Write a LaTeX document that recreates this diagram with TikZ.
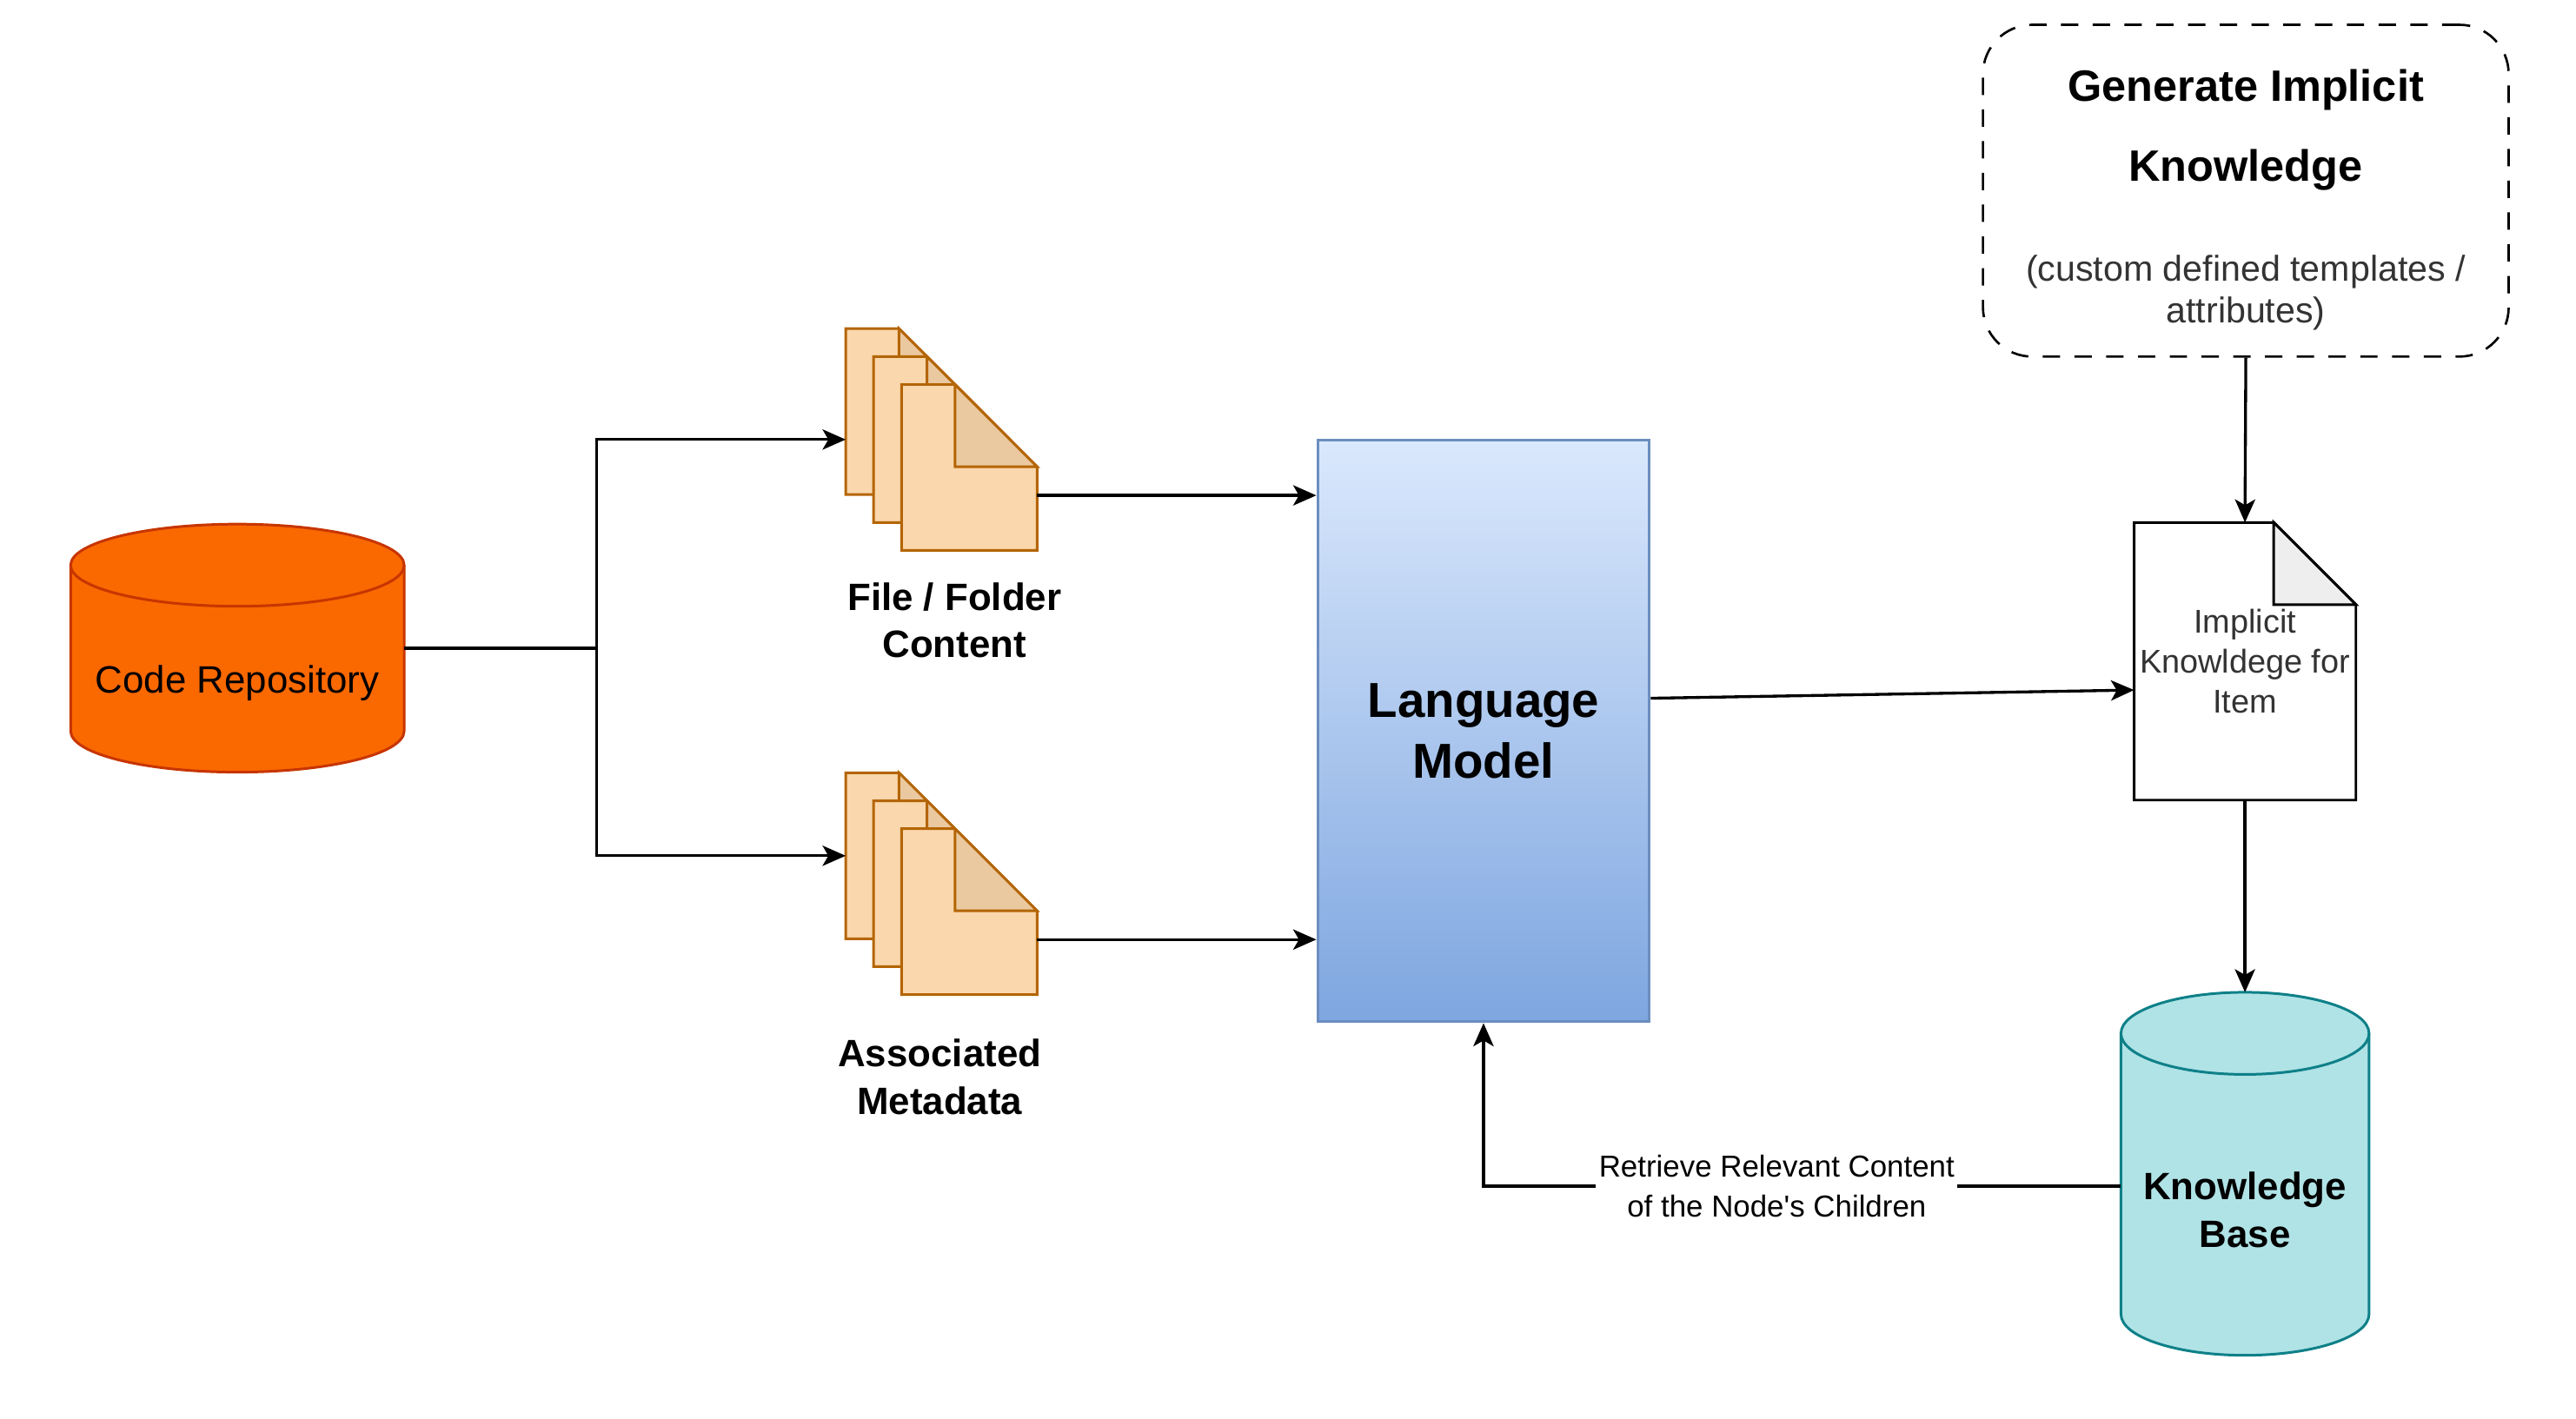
\documentclass[tikz,border=0pt]{standalone}
\usepackage{fontspec}
\setmainfont{Liberation Sans}
\usetikzlibrary{arrows.meta, positioning, shapes.geometric, shapes.misc}

\definecolor{repofill}{HTML}{FA6800}
\definecolor{repoline}{HTML}{C73500}
\definecolor{docfill}{HTML}{FAD7AC}
\definecolor{docline}{HTML}{B46504}
\definecolor{docfold}{HTML}{EBC9A0}
\definecolor{lmtop}{HTML}{DAE8FC}
\definecolor{lmbottom}{HTML}{7EA6E0}
\definecolor{lmline}{HTML}{6C8EBF}
\definecolor{kbfill}{HTML}{B0E3E6}
\definecolor{kbline}{HTML}{0E8088}
\definecolor{itemfold}{HTML}{EEEEEE}
\definecolor{softtext}{HTML}{333333}

\begin{document}
\begin{tikzpicture}[
    arr/.style={-{Stealth[length=8pt, width=7pt, inset=2pt]}, line width=1pt},
    wire/.style={line width=1pt},
    cylbox/.style={minimum width=#1, inner sep=0pt, outer sep=0pt},
    page/.style={minimum width=16.5mm, minimum height=20.2mm, inner sep=0pt, outer sep=0pt},
    pageface/.style={fill=docfill, draw=docline, line width=0.9pt},
    pagefold/.style={fill=docfold, draw=docline, line width=0.9pt},
    doclabel/.style={align=center, font=\fontsize{13.2}{16.4}\selectfont\bfseries},
    lmbox/.style={draw=lmline, top color=lmtop, bottom color=lmbottom, line width=0.9pt,
        minimum width=4.04cm, minimum height=7.08cm, align=center,
        font=\fontsize{17}{21}\selectfont\bfseries},
    genbox/.style={draw, dash pattern=on 6pt off 5pt, rounded corners=6mm, line width=0.8pt,
        minimum width=6.4cm, minimum height=4.04cm},
    gentext/.style={align=center, text=softtext, font=\fontsize{12.4}{14.2}\selectfont},
    itempage/.style={minimum width=2.7cm, minimum height=3.38cm, inner sep=0pt, outer sep=0pt,
        align=center, text=softtext, font=\fontsize{11.4}{13.9}\selectfont},
]

\useasboundingbox (0,0) rectangle (31.36,17.27);

% Cylinders: code repository and knowledge base
\node[cylbox=4.06cm, minimum height=3.02cm] (repo) at (2.89, 9.378) {};
\node[cylbox=3.02cm, minimum height=4.42cm] (kb) at (27.33, 2.978) {};
\foreach \n/\rx/\f/\l in {repo/2.03/repofill/repoline, kb/1.51/kbfill/kbline} {
    \filldraw[fill=\f, draw=\l, line width=0.9pt] ([yshift=-5mm]\n.north west) -- ([yshift=5mm]\n.south west)
        arc[start angle=180, end angle=360, x radius=\rx cm, y radius=5mm]
        -- ([yshift=-5mm]\n.north east)
        arc[start angle=0, end angle=180, x radius=\rx cm, y radius=5mm] -- cycle;
    \draw[draw=\l, line width=0.9pt] ([yshift=-5mm]\n.north west)
        arc[start angle=180, end angle=360, x radius=\rx cm, y radius=5mm];
}
\node[font=\fontsize{13.2}{16}\selectfont] (repotext) at ([yshift=-4.3mm]repo.center) {Code Repository};
\node[doclabel] (kbtext) at ([yshift=-4.4mm]kb.center) {Knowledge\\Base};

% File / folder content stack
\foreach \i/\d in {1/0, 2/0.34, 3/0.68}
    \node[page] (fc\i) at (11.12+\d, 12.258-\d) {};
% Associated metadata stack
\foreach \i/\d in {1/0, 2/0.34, 3/0.68}
    \node[page] (md\i) at (11.12+\d, 6.85-\d) {};

% pages with folded corner, back to front
\foreach \p in {fc1, fc2, fc3, md1, md2, md3} {
    \filldraw[pageface] (\p.south west) -- (\p.north west) -- ([xshift=-10mm]\p.north east)
        -- ([yshift=-10mm]\p.north east) -- (\p.south east) -- cycle;
    \filldraw[pagefold] ([xshift=-10mm]\p.north east) |- ([yshift=-10mm]\p.north east) -- cycle;
}

\node[doclabel] (fclabel) at (11.62, 9.718) {File / Folder\\Content};
\node[doclabel] (mdlabel) at (11.44, 4.158) {Associated\\Metadata};

% Language model
\node[lmbox] (lm) at (18.06, 8.368) {Language\\Model};

% Generate implicit knowledge
\node[genbox] (gen) at (27.34, 14.948) {};
\node[gentext] (gentitle) at ([yshift=-1.1mm]gen.center) {%
    {\fontsize{15.2}{18}\selectfont\bfseries\color{black}Generate Implicit}\\[13.6pt]
    {\fontsize{15.2}{18}\selectfont\bfseries\color{black}Knowledge}\\[20.4pt]
    (custom defined templates /\\attributes)};

% Implicit knowledge for item
\node[itempage] (ik) at (27.33, 9.218) {Implicit\\Knowldege for\\Item};
\draw[line width=0.9pt] (ik.south west) -- (ik.north west) -- ([xshift=-10mm]ik.north east)
    -- ([yshift=-10mm]ik.north east) -- (ik.south east) -- cycle;
\filldraw[fill=itemfold, line width=0.9pt] ([xshift=-10mm]ik.north east) |- ([yshift=-10mm]ik.north east) -- cycle;

% Connections
\coordinate (split) at (7.26, 9.378);
\draw[wire] (repo.east) -- (split);
\draw[arr] (split) |- (fc1.west |- fc2.center);
\draw[arr] (split) |- (md1.west);
\draw[arr] ([yshift=-3.4mm]fc3.east) -- ([yshift=-3.4mm]fc3.east -| lm.west);
\draw[arr] ([yshift=-3.4mm]md3.east) -- ([yshift=-3.4mm]md3.east -| lm.west);
\draw[arr] ([yshift=4mm]lm.east) -- ([yshift=-3.5mm]ik.west);
\draw[arr] (gen.south) -- (ik.north);
\draw[arr] (ik.south) -- (kb.north);
\draw[arr] ([yshift=-1.5mm]kb.west) -| node[pos=0.27, fill=white, inner sep=1pt, align=center,
    font=\fontsize{10.5}{13.6}\selectfont] {Retrieve Relevant Content\\of the Node\textquotesingle s Children} (lm.south);

\end{tikzpicture}
\end{document}
